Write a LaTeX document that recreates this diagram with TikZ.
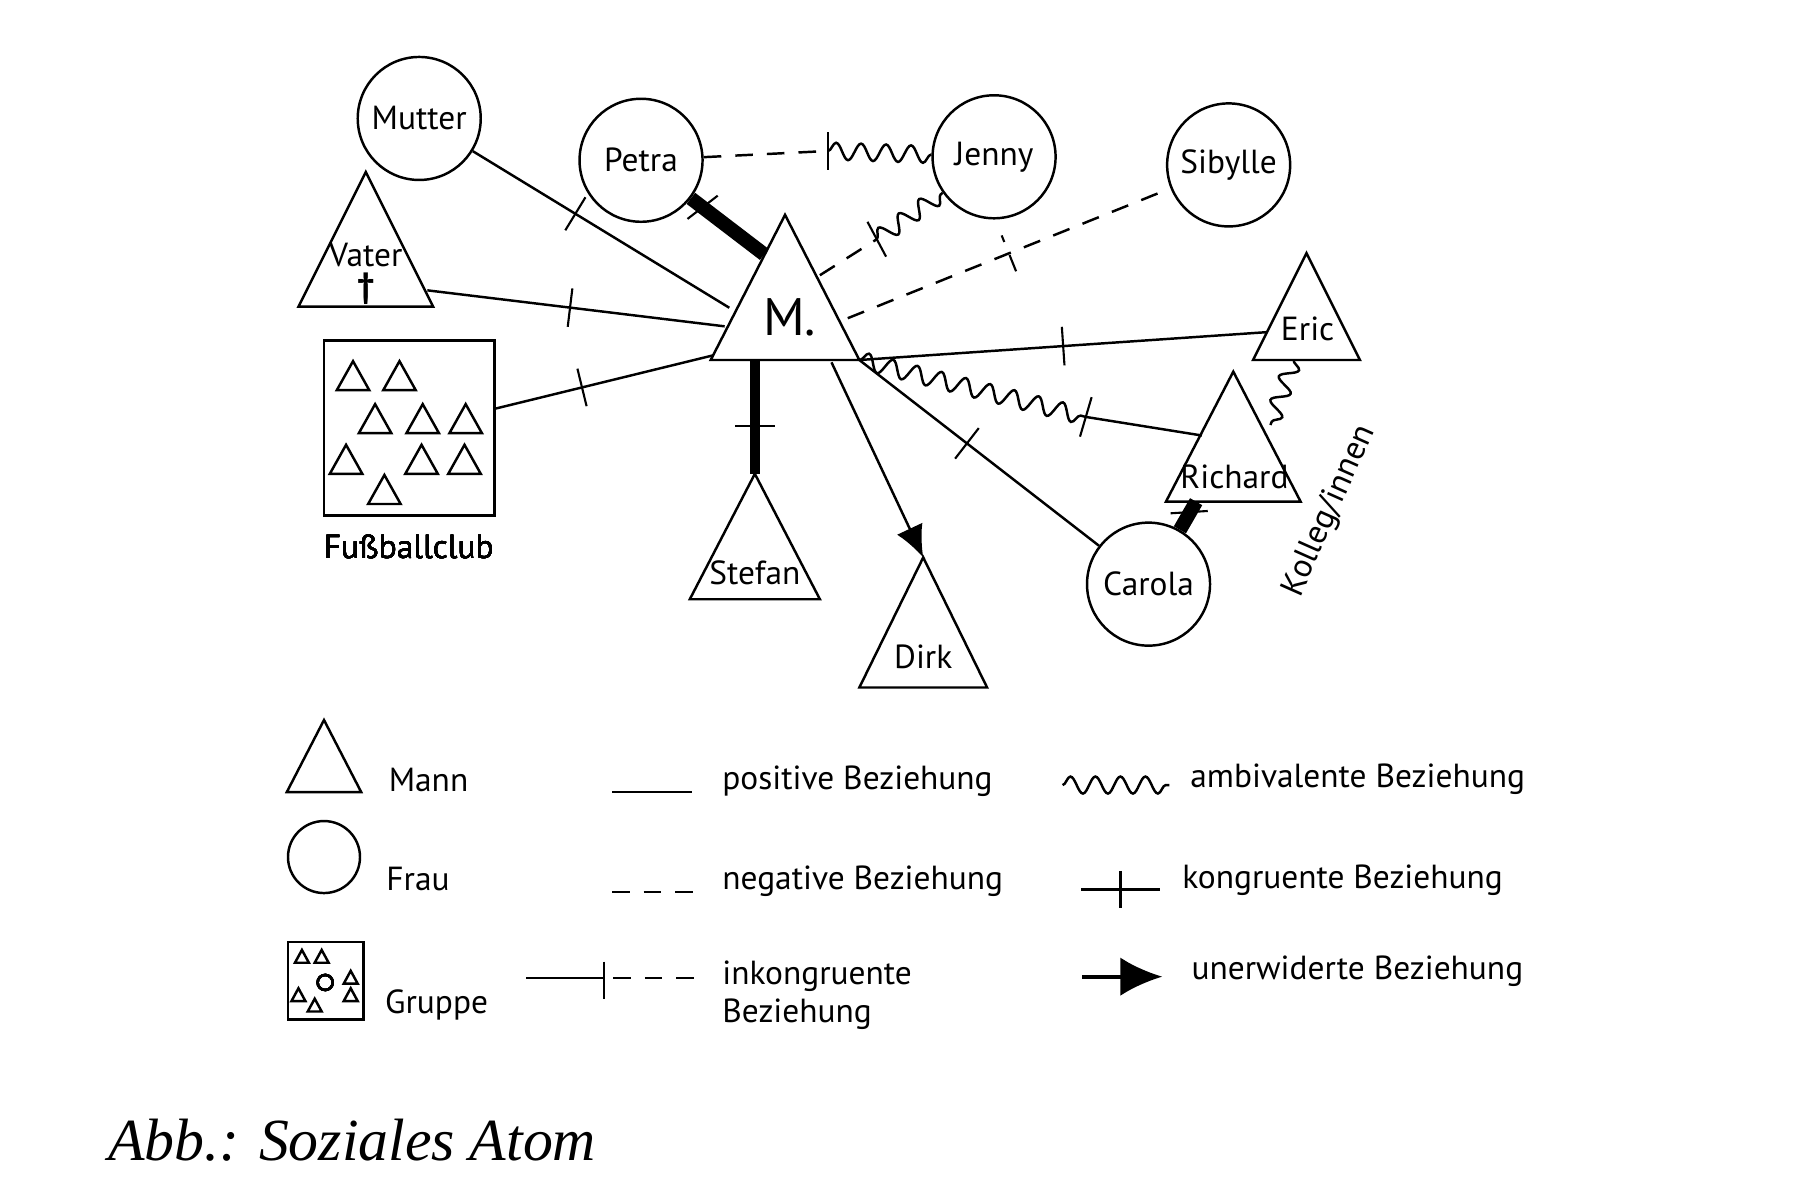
\documentclass[tikz,border=0pt]{standalone}
\usepackage{fontspec}
\setmainfont{PT Sans}
\newfontfamily\capfont{Liberation Serif}
\usetikzlibrary{calc,decorations.pathmorphing,decorations.markings,arrows.meta}
% triangle: apex x, apex y, half width, height
\newcommand{\tri}[4]{\draw (#1,#2) -- (#1-#3,#2+#4) -- (#1+#3,#2+#4) -- cycle;}
\tikzset{
  frau/.style={draw,circle,minimum size=1.23cm,inner sep=0pt,font=\fontsize{9.5}{11}\selectfont},
  lbl/.style={inner sep=0pt,font=\fontsize{9.5}{11}\selectfont},
  wavy/.style={decorate,decoration={snake,segment length=0.25cm,amplitude=0.085cm}},
  neg/.style={dash pattern=on 5pt off 4pt},
  tick/.style={postaction={decorate,decoration={markings,
      mark=at position #1 with {\draw[line width=0.6pt] (0,-5.5pt)--(0,5.5pt);}}}},
}
\begin{document}
\begin{tikzpicture}[x=0.011613cm,y=-0.011613cm,line width=0.7pt]
\useasboundingbox (0,0) rectangle (1550,1019.5);
% frauen
\node[frau] (mutter) at (361,102) {Mutter};
\node[frau] (petra) at (552,138) {Petra};
\node[frau] (jenny) at (856,135) {Jenny};
\node[frau] (sibylle) at (1058,142) {Sibylle};
\node[frau] (carola) at (989,503) {Carola};
% maenner
\tri{676}{185}{64}{125}
\node[inner sep=0pt,font=\fontsize{15}{17}\selectfont] (m) at (680,273) {M.};
\tri{315}{148}{58}{116}
\node[lbl] (vater) at (315,220) {Vater};
\node[inner sep=0pt] (kreuz) at (315,249) {\textbf{†}};
\tri{1125}{218}{46}{92}
\node[lbl] (eric) at (1126,283) {Eric};
\tri{1062}{320}{58}{112}
\node[lbl] (richard) at (1063,411) {Richard};
\tri{650}{408}{56}{108}
\node[lbl] (stefan) at (650,493) {Stefan};
\tri{795}{480}{55}{112}
\node[lbl] (dirk) at (795,566) {Dirk};
% gruppe
\draw (279,293) rectangle (426,444);
\foreach \x/\y in {304/311,344/311,323/348,364/348,401/348,298/383,363/383,400/383,331/409}
  \tri{\x}{\y}{14}{25}
\node[lbl] (club) at (352,471) {Fußballclub};
% ankerpunkte
\coordinate (m1) at (628,265);
\coordinate (m2) at (624,281);
\coordinate (m3) at (614,306);
\coordinate (m4) at (658,219);
\coordinate (m5) at (706,237);
\coordinate (m6) at (730,274);
\coordinate (m7) at (740,310);
\coordinate (m8) at (650,310);
\coordinate (m9) at (716,312);
\coordinate (v1) at (368,250);
\coordinate (c1) at (426,352);
\coordinate (e1) at (1091,286);
\coordinate (e2) at (1114,310);
\coordinate (r1) at (1035,375);
\coordinate (r2) at (1094,366);
\coordinate (r3) at (1030,432);
\coordinate (s1) at (650,408);
\coordinate (d1) at (795,480);
\coordinate (pj) at (713,130);
\coordinate (mj) at (755,206);
\coordinate (mr) at (935,359);
% beziehungen
\draw[tick=0.4] (mutter) -- (m1);
\draw[tick=0.48] (v1) -- (m2);
\draw[tick=0.4] (c1) -- (m3);
\draw[line width=4pt] (petra) -- (m4);
\draw[line width=0.6pt] ($(petra)!0.5!(m4)$) ++(-13,10) -- ++(26,-20);
\draw[neg] (petra) -- (pj);
\draw[line width=0.6pt] (pj) ++(0,-16) -- ++(0,32);
\draw[wavy] (pj) -- (jenny);
\draw[neg] (m5) -- (mj);
\draw[line width=0.6pt] (mj) ++(-8,-15) -- ++(16,30);
\draw[wavy] (mj) -- (jenny);
\draw[neg,tick=0.5] (m6) -- (sibylle);
\draw[tick=0.5] (m7) -- (e1);
\draw[wavy] (m7) -- (mr);
\draw[line width=0.6pt] (mr) ++(5,-17) -- ++(-10,34);
\draw (mr) -- (r1);
\draw[tick=0.45] (m7) -- (carola);
\draw[line width=3pt] (m8) -- (s1);
\draw[line width=0.6pt] (633,367) -- (667,367);
\draw[-{Latex[length=9pt,width=8pt]}] (m9) -- (d1);
\draw[wavy] (e2) -- (r2);
\draw[line width=4pt] (r3) -- (carola);
\draw[line width=0.6pt] (1008,442) -- (1040,440);
\node[lbl,rotate=66] (kolleg) at (1145,440) {Kolleg/innen};
% legende
\tri{279}{620}{32}{62}
\node[lbl] (mann) at (369,672) {Mann};
\node[draw,circle,minimum size=0.72cm,inner sep=0pt] (lfrau) at (279,738) {};
\node[lbl] (frau) at (360,757) {Frau};
\draw (248,811) rectangle (313,878);
\foreach \x/\y in {260/818,277/818,302/836,257/851,271/860,302/851}
  \tri{\x}{\y}{6}{11}
\draw (280,846) circle (6.5);
\node[lbl] (gruppe) at (376,865) {Gruppe};
\coordinate (p1) at (527,682); \coordinate (p2) at (596,682);
\draw (p1) -- (p2);
\node[lbl,anchor=west] (pos) at (621,673) {positive Beziehung};
\coordinate (n1) at (527,768); \coordinate (n2) at (598,768);
\draw[neg] (n1) -- (n2);
\node[lbl,anchor=west] (negb) at (621,759) {negative Beziehung};
\coordinate (i1) at (453,842); \coordinate (i2) at (520,842); \coordinate (i3) at (600,842);
\draw (i1) -- (i2);
\draw (520,828) -- (520,860);
\draw[neg] (i2) ++(8,0) -- (i3);
\node[lbl,anchor=north west,align=left] (ink) at (621,826) {inkongruente\\Beziehung};
\coordinate (a1) at (915,676); \coordinate (a2) at (1007,676);
\draw[wavy] (a1) -- (a2);
\node[lbl,anchor=west] (amb) at (1024,671) {ambivalente Beziehung};
\coordinate (k1) at (931,766); \coordinate (k2) at (999,766);
\draw (k1) -- (k2);
\draw (965,750) -- (965,782);
\node[lbl,anchor=west] (kon) at (1017,758) {kongruente Beziehung};
\coordinate (u1) at (932,841); \coordinate (u2) at (1001,841);
\draw[line width=1.2pt,-{Latex[length=12pt,width=11pt]}] (u1) -- (u2);
\node[lbl,anchor=west] (unw) at (1025,836) {unerwiderte Beziehung};
% titel
\node[inner sep=0pt,anchor=west,font=\capfont\itshape\fontsize{17}{20}\selectfont] (titel) at (92,982) {Abb.: Soziales Atom};
\end{tikzpicture}
\end{document}
